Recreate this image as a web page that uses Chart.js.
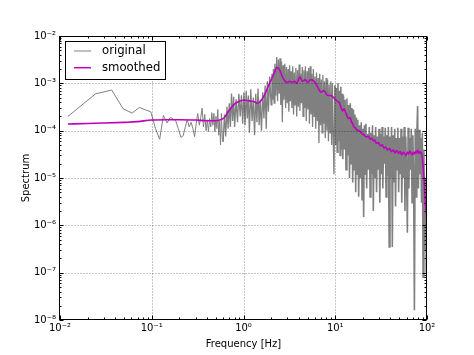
<!DOCTYPE html>
<html><head><meta charset="utf-8">
<script src="https://cdn.jsdelivr.net/npm/chart.js@4/dist/chart.umd.min.js"></script>
<style>html,body{margin:0;padding:0;background:#fff;overflow:hidden}</style>
</head><body>
<canvas id="c" width="474" height="355"></canvas>
<script>
// ---- data ----
const freqOriginal = [
  0.0122, 0.0244, 0.0366, 0.0488, 0.0611, 0.0733, 0.0855, 0.0977, 0.110, 0.122,
  0.134, 0.147, 0.159, 0.171, 0.183, 0.195, 0.208, 0.220, 0.232, 0.244,
  0.256, 0.269, 0.281, 0.293, 0.305, 0.317, 0.330, 0.342, 0.354, 0.366,
  0.378, 0.391, 0.403, 0.415, 0.427, 0.440, 0.452, 0.464, 0.476, 0.488,
  0.501, 0.513, 0.525, 0.537, 0.549, 0.562, 0.574, 0.586,
  0.60, 0.62, 0.64, 0.66, 0.68, 0.70, 0.72, 0.74, 0.76, 0.78,
  0.80, 0.83, 0.86, 0.89, 0.92, 0.95, 0.98, 1.01, 1.04, 1.07,
  1.10, 1.13, 1.16, 1.20, 1.24, 1.28, 1.32, 1.36, 1.40, 1.44,
  1.48, 1.52, 1.57, 1.62, 1.67, 1.72, 1.77, 1.82, 1.87, 1.93,
  2.00, 2.04, 2.08, 2.12, 2.16, 2.20, 2.25, 2.30, 2.35, 2.40,
  2.45, 2.50, 2.55, 2.60, 2.65, 2.70, 2.76, 2.82, 2.88, 2.94,
  3.00, 3.06, 3.12, 3.18, 3.24, 3.30, 3.37, 3.44, 3.51, 3.58,
  3.65, 3.72, 3.80, 3.88, 3.96, 4.04, 4.12, 4.20, 4.28, 4.37,
  4.46, 4.55, 4.64, 4.73, 4.83, 4.93, 5.03, 5.13, 5.23, 5.33,
  5.44, 5.55, 5.66, 5.77, 5.89, 6.01, 6.13, 6.25, 6.38, 6.51,
  6.64, 6.77, 6.91, 7.05, 7.19, 7.33, 7.48, 7.63, 7.78, 7.94,
  8.10, 8.26, 8.43, 8.60, 8.77, 8.95, 9.13, 9.31, 9.50, 9.69,
  9.88, 10.1, 10.3, 10.5, 10.7, 10.9, 11.1, 11.3, 11.5, 11.7,
  11.9, 12.1, 12.3, 12.5, 12.8, 13.1, 13.4, 13.7, 14.0, 14.3,
  14.6, 14.9, 15.2, 15.5, 15.8, 16.1, 16.4, 16.7, 17.0, 17.3,
  17.6, 18.0, 18.4, 18.8, 19.2, 19.6, 20.0, 20.4, 20.8, 21.2,
  21.6, 22.0, 22.5, 23.0, 23.5, 24.0, 24.5, 25.0, 25.5, 26.0,
  26.5, 27.0, 27.6, 28.2, 28.8, 29.4, 30.0, 30.6, 31.2, 31.8,
  32.4, 33.0, 33.7, 34.4, 35.1, 35.8, 36.5, 37.2, 37.9, 38.7,
  39.5, 40.3, 41.1, 41.9, 42.7, 43.6, 44.5, 45.4, 46.3, 47.2,
  48.1, 49.1, 50.1, 51.1, 52.1, 53.1, 54.2, 55.3, 56.4, 57.5,
  58.7, 59.9, 61.1, 62.3, 63.5, 64.8, 66.1, 67.4, 68.7, 70.1,
  71.5, 72.9, 74.4, 75.9, 77.4, 79.0, 80.6, 82.2, 83.8, 85.5,
  87.2, 88.9, 90.7, 92.5, 94.3, 96.2, 98.1, 100.0
];
const original = [
  2.0e-4, 6.0e-4, 7.2e-4, 2.9e-4, 2.35e-4, 3.1e-4, 2.75e-4, 2.5e-4, 1.1e-4, 6.6e-5,
  2.1e-4, 1.45e-4, 1.9e-4, 1.75e-4, 1.6e-4, 1.1e-4, 7.2e-5, 7.8e-5, 1.2e-4, 1.7e-4,
  1.2e-4, 1.5e-4, 1.1e-4, 7.5e-5, 1.4e-4, 2.3e-4, 1.3e-4, 1.9e-4, 3.0e-4, 1.2e-4,
  2.2e-4, 1.0e-4, 1.7e-4, 9.5e-5, 1.8e-4, 1.2e-4, 2.4e-4, 1.3e-4, 2.3e-4, 9.5e-5,
  2.0e-4, 1.1e-4, 2.8e-4, 8.0e-5, 1.6e-4, 5.0e-5, 2.3e-4, 7.5e-5,
  5.8e-5, 2.2e-4, 7.5e-5, 3.2e-4, 1.1e-4, 3.8e-4, 1.2e-4, 6.1e-4, 1.6e-4, 5.2e-4,
  1.2e-4, 4.6e-4, 1.5e-4, 6.0e-4, 2.0e-4, 5.6e-4, 1.4e-4, 6.5e-4, 1.3e-4, 7.0e-4,
  1.8e-4, 5.5e-4, 9.0e-5, 7.5e-4, 1.6e-4, 5.0e-4, 8.0e-5, 6.0e-4, 1.5e-4, 7.8e-4,
  1.3e-4, 4.5e-4, 1.0e-4, 6.5e-4, 1.8e-4, 9.0e-4, 1.1e-4, 1.1e-3, 2.5e-4, 1.4e-3,
  3.5e-4, 1.6e-3, 4.5e-4, 2.0e-3, 3.8e-4, 2.6e-3, 5.5e-4, 3.6e-3, 4.2e-4, 3.2e-3,
  6.0e-4, 3.4e-3, 3.5e-4, 2.9e-3, 1.5e-4, 2.4e-3, 4.5e-4, 2.6e-3, 3.0e-4, 2.2e-3,
  3.8e-4, 2.0e-3, 2.5e-4, 2.4e-3, 4.2e-4, 1.8e-3, 3.0e-4, 2.3e-3, 2.2e-4, 1.7e-3,
  3.5e-4, 2.1e-3, 2.0e-4, 1.9e-3, 3.2e-4, 2.5e-3, 2.6e-4, 1.6e-3, 3.8e-4, 2.2e-3,
  2.0e-4, 1.9e-3, 3.0e-4, 2.3e-3, 1.6e-4, 1.8e-3, 2.8e-4, 2.1e-3, 1.4e-4, 2.3e-3,
  2.2e-4, 1.6e-3, 1.2e-4, 2.0e-3, 2.0e-4, 1.4e-3, 1.1e-4, 1.7e-3, 1.6e-4, 1.3e-3,
  5.5e-5, 1.6e-3, 1.3e-4, 1.2e-3, 9.0e-5, 1.5e-3, 1.4e-4, 1.1e-3, 7.0e-5, 1.3e-3,
  1.0e-4, 1.2e-3, 6.0e-5, 9.5e-4, 9.0e-5, 1.1e-3, 5.0e-5, 1.0e-3, 7.0e-5, 1.2e-5,
  9.0e-4, 5.0e-5, 8.0e-4, 3.5e-5, 1.0e-3, 6.0e-5, 7.0e-4, 3.0e-5, 8.5e-4, 4.0e-5,
  6.0e-4, 2.5e-5, 5.5e-4, 4.0e-5, 4.5e-4, 1.5e-5, 4.8e-4, 3.0e-5, 3.5e-4, 1.0e-5,
  3.8e-4, 2.0e-5, 3.0e-4, 8.0e-6, 2.8e-4, 1.5e-5, 2.2e-4, 5.0e-6, 1.9e-4, 1.2e-5,
  1.7e-4, 4.0e-6, 1.3e-4, 1.0e-5, 1.5e-4, 3.5e-6, 1.1e-4, 1.5e-6, 1.3e-4, 1.2e-5,
  1.4e-4, 6.0e-6, 8.5e-5, 1.5e-5, 1.2e-4, 4.0e-6, 9.0e-5, 1.2e-5, 1.3e-4, 2.0e-6,
  8.0e-5, 1.0e-5, 1.2e-4, 5.0e-6, 7.5e-5, 1.5e-5, 1.1e-4, 3.0e-6, 8.5e-5, 1.2e-5,
  1.2e-4, 6.0e-6, 7.5e-5, 2.0e-5, 1.15e-4, 4.0e-6, 8.0e-5, 1.1e-5, 1.2e-4, 3.5e-7,
  7.5e-5, 1.0e-5, 1.2e-4, 3.5e-7, 8.0e-5, 8.0e-6, 1.1e-4, 2.5e-6, 7.0e-5, 1.5e-5,
  1.15e-4, 5.0e-6, 7.0e-5, 1.2e-5, 1.1e-4, 3.0e-6, 7.5e-5, 1.0e-5, 1.2e-4, 2.0e-6,
  7.5e-5, 1.2e-5, 7.0e-7, 1.15e-4, 6.0e-6, 7.0e-5, 1.5e-5, 1.1e-4, 3.0e-6, 8.0e-5,
  1.0e-5, 1.6e-8, 1.1e-4, 4.0e-6, 7.5e-5, 3.3e-4, 6.0e-6, 1.05e-4, 1.2e-5, 7.0e-5,
  3.0e-6, 9.0e-5, 8.0e-8, 4.0e-5, 3.0e-7, 1.0e-5, 1.0e-7, 1.5e-6
];
const freqSmoothed = [
  0.0122, 0.02, 0.03, 0.05, 0.07, 0.1, 0.15, 0.2, 0.3, 0.4,
  0.5, 0.56, 0.62, 0.68, 0.75, 0.82, 0.9, 1.0, 1.1, 1.2,
  1.3, 1.42, 1.55, 1.72, 1.85, 2.0, 2.15, 2.3, 2.45, 2.6,
  2.8, 3.0, 3.2, 3.4, 3.6, 3.8, 4.1, 4.4, 4.7, 5.0,
  5.4, 5.9, 6.4, 7.0, 7.5, 8.2, 9.0, 10.0, 10.5, 11.0,
  11.5, 12.0, 12.5, 13.0, 13.5, 14.0, 14.5, 15.0, 15.5, 16.0,
  16.5, 17.0, 17.8, 18.5, 19.2, 20, 21, 22, 23, 24,
  25, 26, 27, 28, 29.5, 31, 32.5, 34, 35.5, 37,
  39, 41, 43, 45, 47, 49, 51, 53, 55, 57,
  59, 61, 63, 65, 67, 69, 71, 73, 75, 77,
  79, 81, 83, 85, 87, 89, 92, 96, 100
];
const smoothed = [
  1.38e-4, 1.42e-4, 1.45e-4, 1.5e-4, 1.55e-4, 1.68e-4, 1.7e-4, 1.7e-4, 1.68e-4, 1.62e-4,
  1.62e-4, 1.7e-4, 1.9e-4, 2.5e-4, 3.2e-4, 3.8e-4, 4.2e-4, 4.4e-4, 4.35e-4, 4.2e-4,
  4.1e-4, 3.8e-4, 4.3e-4, 6.0e-4, 8.5e-4, 1.18e-3, 1.6e-3, 2.15e-3, 2.0e-3, 1.5e-3,
  1.15e-3, 1.05e-3, 1.1e-3, 1.05e-3, 1.1e-3, 1.0e-3, 1.35e-3, 1.1e-3, 1.2e-3, 1.05e-3,
  1.2e-3, 1.1e-3, 8.5e-4, 6.5e-4, 7.0e-4, 5.6e-4, 5.5e-4, 4.6e-4, 4.2e-4, 4.0e-4,
  3.2e-4, 2.6e-4, 2.9e-4, 2.4e-4, 2.0e-4, 1.8e-4, 1.9e-4, 1.55e-4, 1.4e-4, 1.2e-4,
  1.15e-4, 1.05e-4, 1.0e-4, 9.8e-5, 9.0e-5, 8.5e-5, 7.8e-5, 7.4e-5, 7.6e-5, 6.6e-5,
  6.9e-5, 6.1e-5, 6.3e-5, 5.4e-5, 5.6e-5, 4.8e-5, 5.0e-5, 4.3e-5, 4.5e-5, 3.9e-5,
  4.2e-5, 3.6e-5, 3.9e-5, 3.4e-5, 3.8e-5, 3.3e-5, 3.6e-5, 3.1e-5, 3.5e-5, 3.3e-5,
  3.0e-5, 3.5e-5, 3.2e-5, 3.7e-5, 3.3e-5, 3.1e-5, 3.5e-5, 3.2e-5, 3.6e-5, 3.4e-5,
  3.9e-5, 3.3e-5, 3.6e-5, 3.3e-5, 3.5e-5, 2.6e-5, 1.2e-5, 3.0e-6, 1.1e-6
];
const seriesNames = ['original', 'smoothed'];
const xTickValues = [0.01, 0.1, 1, 10, 100];
const xTickLabels = ['10\u207B\u00B2', '10\u207B\u00B9', '10\u2070', '10\u00B9', '10\u00B2'];
const yTickValues = [1e-8, 1e-7, 1e-6, 1e-5, 1e-4, 1e-3, 1e-2];
const yTickLabels = ['10\u207B\u2078', '10\u207B\u2077', '10\u207B\u2076', '10\u207B\u2075', '10\u207B\u2074', '10\u207B\u00B3', '10\u207B\u00B2'];
const xTitle = 'Frequency [Hz]';
const yTitle = 'Spectrum';

// ---- styles ----
const FONT = '"DejaVu Sans", "Liberation Sans", sans-serif';
const GRAY = '#808080';
const MAGENTA = '#bf00bf';

const framePlugin = {
  id: 'frame',
  afterDatasetsDraw(chart) {
    const { ctx, chartArea: a, scales } = chart;
    const x = scales.x, y = scales.y;
    const L = Math.round(a.left) - 0.5, R = Math.round(a.right) - 0.5;
    const T = Math.round(a.top) + 0.5, B = Math.round(a.bottom) - 0.5;
    ctx.save();
    ctx.strokeStyle = 'rgba(0,0,0,0.45)';
    ctx.lineWidth = 1;
    ctx.setLineDash([1, 2]);
    xTickValues.forEach(v => {
      const px = Math.round(x.getPixelForValue(v)) + 0.5;
      if (px > L + 2 && px < R - 2) { ctx.beginPath(); ctx.moveTo(px, T); ctx.lineTo(px, B); ctx.stroke(); }
    });
    yTickValues.forEach(v => {
      const py = Math.round(y.getPixelForValue(v)) + 0.5;
      if (py > T + 2 && py < B - 2) { ctx.beginPath(); ctx.moveTo(L, py); ctx.lineTo(R, py); ctx.stroke(); }
    });
    ctx.setLineDash([]);
    ctx.strokeStyle = '#000';
    ctx.lineWidth = 1;
    ctx.strokeRect(L, T, R - L, B - T);
    const seg = (x1, y1, x2, y2) => { ctx.beginPath(); ctx.moveTo(x1, y1); ctx.lineTo(x2, y2); ctx.stroke(); };
    for (let e = -2; e <= 2; e++) {
      for (let m = 1; m <= 9; m++) {
        if (e === 2 && m > 1) break;
        const px = Math.round(x.getPixelForValue(m * Math.pow(10, e))) + 0.5;
        const len = m === 1 ? 4 : 2;
        seg(px, T, px, T + len); seg(px, B, px, B - len);
      }
    }
    for (let e = -8; e <= -2; e++) {
      for (let m = 1; m <= 9; m++) {
        if (e === -2 && m > 1) break;
        const py = Math.round(y.getPixelForValue(m * Math.pow(10, e))) + 0.5;
        const len = m === 1 ? 4 : 2;
        seg(L, py, L + len, py); seg(R, py, R - len, py);
      }
    }
    const lx = 65.5, ly = 41.5, lw = 100, lh = 38;
    ctx.fillStyle = '#fff';
    ctx.fillRect(lx, ly, lw, lh);
    ctx.strokeStyle = '#000';
    ctx.strokeRect(lx, ly, lw, lh);
    const colors = [GRAY, MAGENTA];
    const widths = [1, 1.5];
    ctx.font = '11.7px ' + FONT;
    ctx.textBaseline = 'middle';
    ctx.textAlign = 'left';
    seriesNames.forEach((name, i) => {
      const yy = 51 + i * 16.7;
      ctx.strokeStyle = colors[i];
      ctx.lineWidth = widths[i];
      seg(74, yy, 91, yy);
      ctx.fillStyle = '#000';
      ctx.fillText(name, 102, yy);
    });
    ctx.restore();
  }
};

new Chart(document.getElementById('c'), {
  type: 'line',
  data: {
    datasets: [
      {
        label: seriesNames[0],
        data: freqOriginal.map((f, i) => ({ x: f, y: original[i] })),
        borderColor: GRAY, borderWidth: 1, pointRadius: 0, tension: 0,
        segment: { borderWidth: c => (c.p0.parsed.x >= 9.8 ? 1.6 : (c.p0.parsed.x >= 0.6 ? 1.3 : 1)) },
        fill: false, order: 2
      },
      {
        label: seriesNames[1],
        data: freqSmoothed.map((f, i) => ({ x: f, y: smoothed[i] })),
        borderColor: MAGENTA, borderWidth: 1.6, pointRadius: 0,
        cubicInterpolationMode: 'monotone', fill: false, order: 1
      }
    ]
  },
  options: {
    responsive: false,
    animation: false,
    events: [],
    layout: { padding: { left: 0, right: 47, top: 36, bottom: 0 } },
    plugins: { legend: { display: false }, tooltip: { enabled: false } },
    scales: {
      x: {
        type: 'logarithmic', min: 0.01, max: 100,
        grid: { display: false, drawTicks: false },
        border: { display: false },
        afterBuildTicks: s => { s.ticks = xTickValues.map(v => ({ value: v })); },
        afterFit: s => { s.height = 35; },
        ticks: {
          autoSkip: false, maxRotation: 0, padding: 2, color: '#000',
          font: { family: FONT, size: 10 },
          callback: v => xTickLabels[xTickValues.indexOf(v)]
        },
        title: { display: true, text: xTitle, color: '#000', font: { family: FONT, size: 10 }, padding: { top: 0, bottom: 5 } }
      },
      y: {
        type: 'logarithmic', min: 1e-8, max: 1e-2,
        grid: { display: false, drawTicks: false },
        border: { display: false },
        afterBuildTicks: s => { s.ticks = yTickValues.map(v => ({ value: v })); },
        afterFit: s => { s.width = 60; },
        ticks: {
          autoSkip: false, padding: 4, color: '#000',
          font: { family: FONT, size: 10 },
          callback: v => yTickLabels[yTickValues.indexOf(v)]
        },
        title: { display: true, text: yTitle, color: '#000', font: { family: FONT, size: 10 }, padding: { top: 20, bottom: 0 } }
      }
    }
  },
  plugins: [framePlugin]
});
</script>
</body></html>
